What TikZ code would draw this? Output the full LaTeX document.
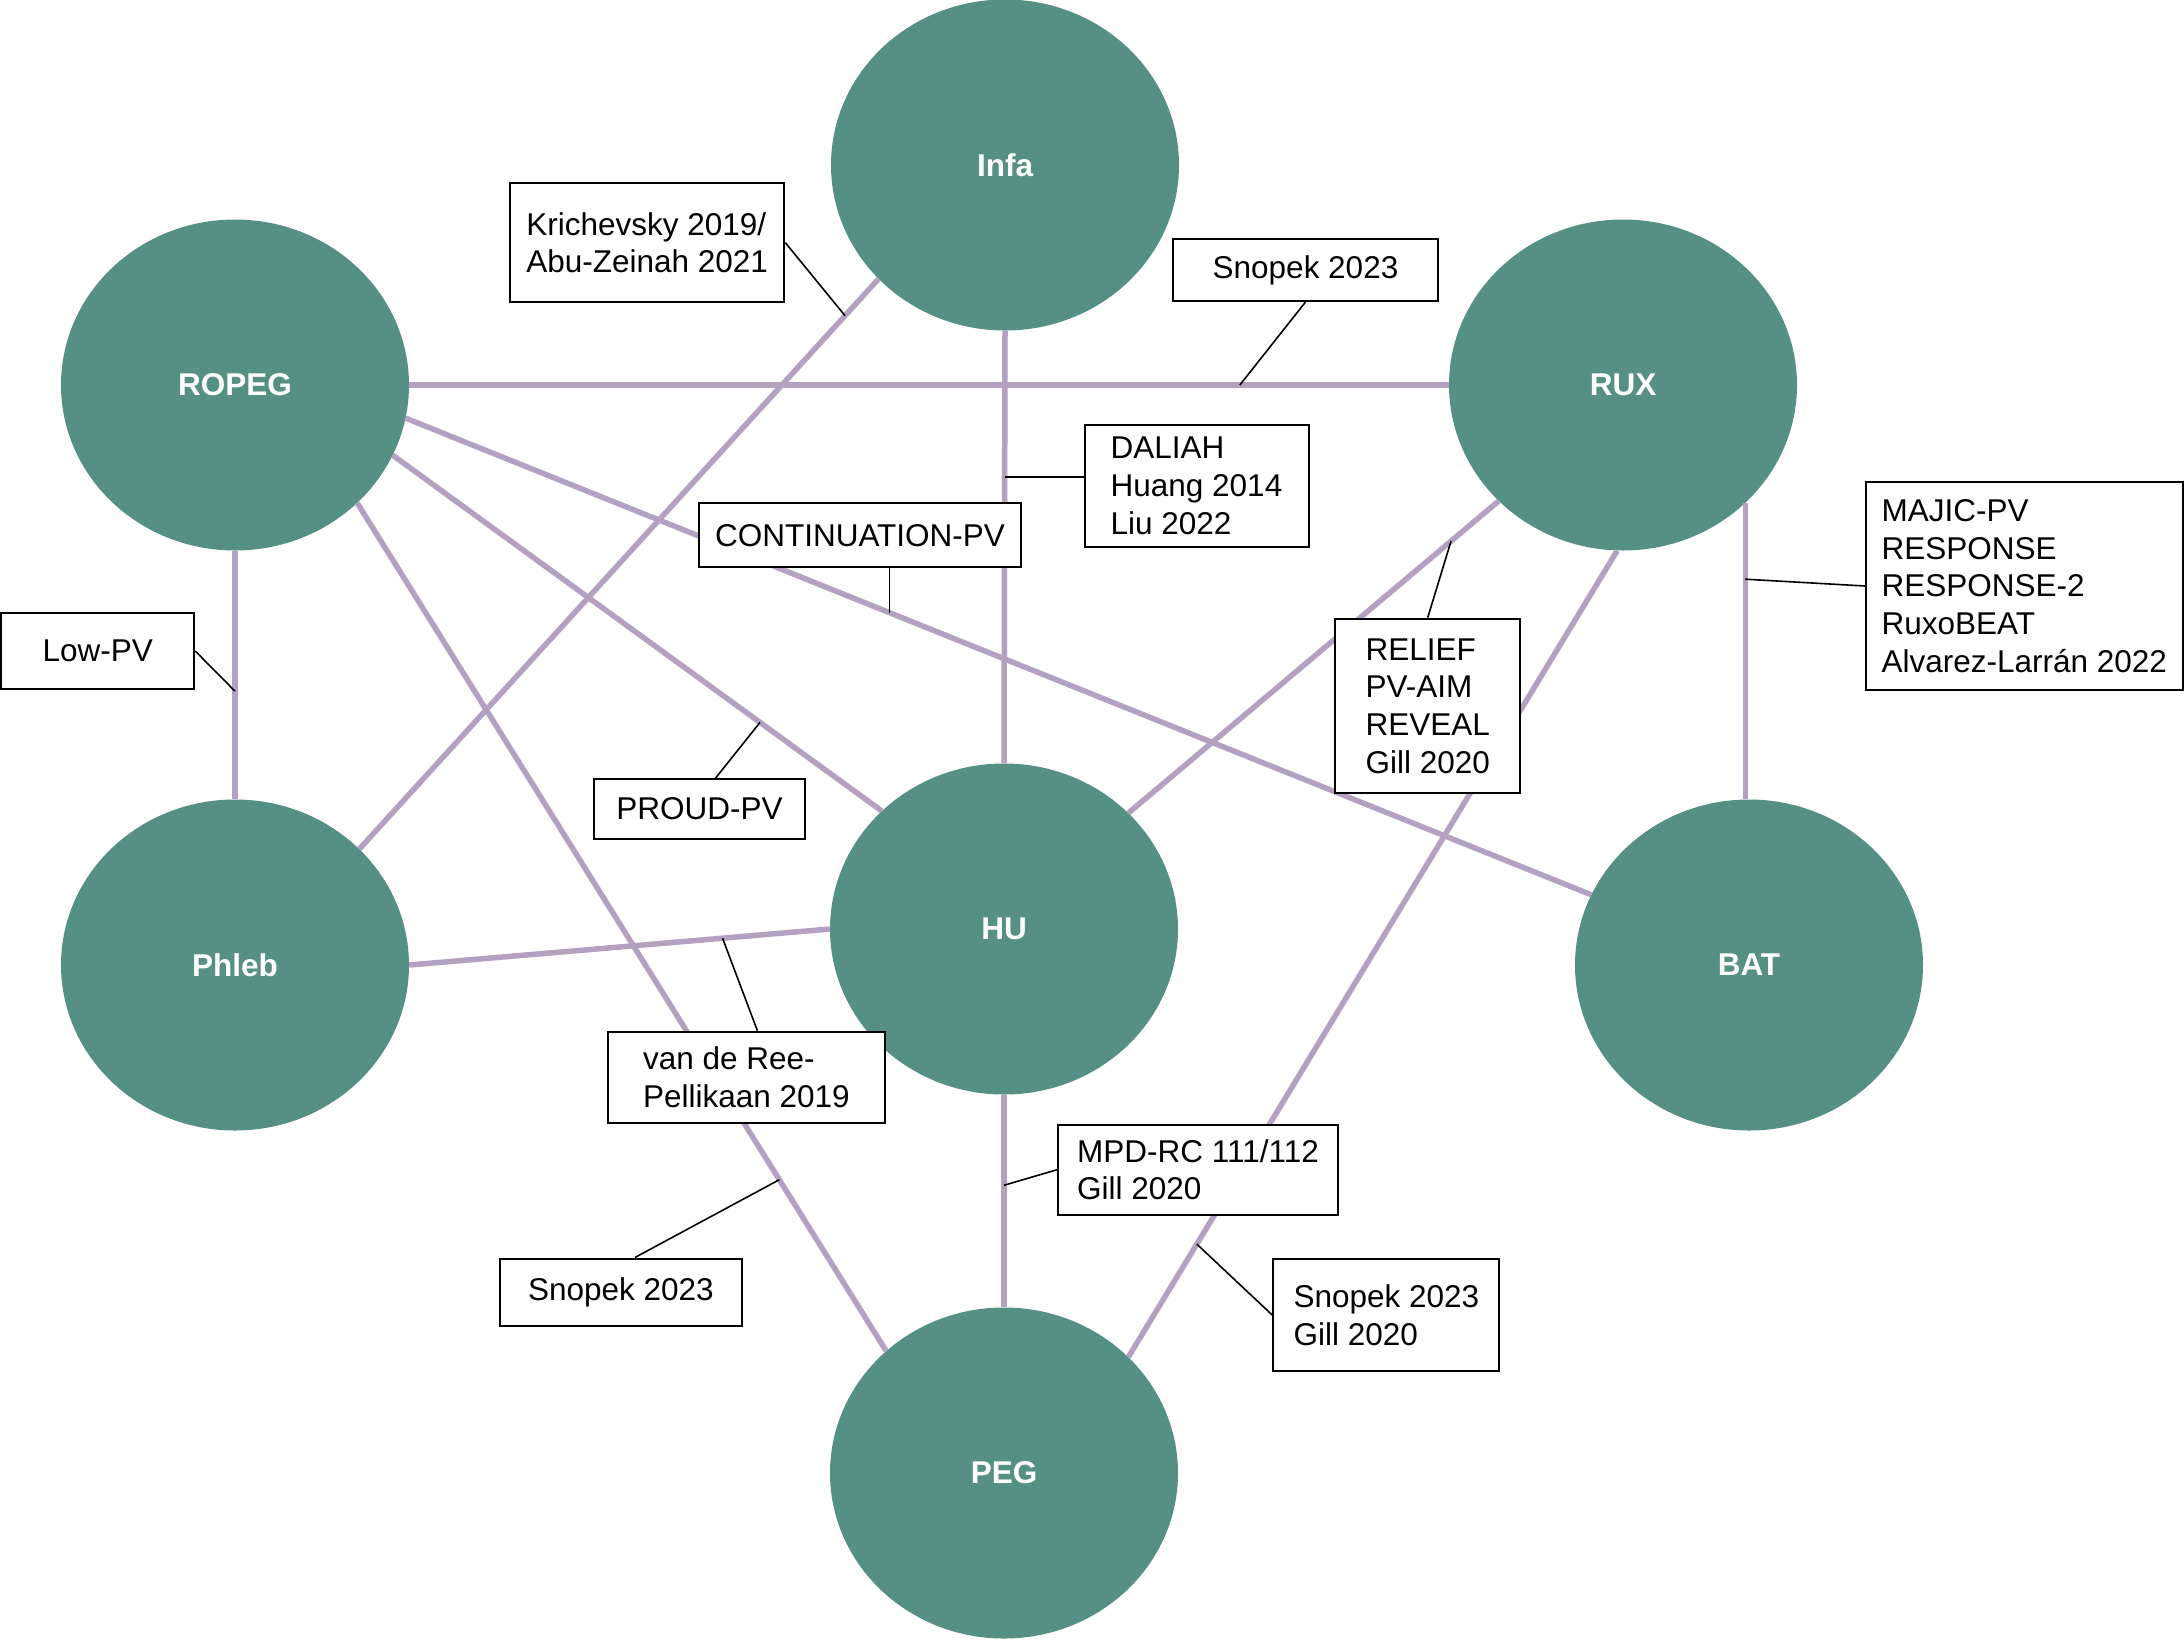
\documentclass[tikz,border=0pt]{standalone}
\usepackage{fontspec}
\setmainfont{Liberation Sans}
\usetikzlibrary{shapes.geometric,calc}
\definecolor{nodeteal}{RGB}{86,143,131}
\definecolor{linkpurple}{RGB}{180,161,194}
\tikzset{
  circ/.style={ellipse, fill=nodeteal, draw=none, minimum width=348pt, minimum height=331pt,
    inner sep=0pt, text=white, font=\fontsize{31.5}{37}\selectfont\bfseries},
  link/.style={draw=linkpurple, line width=5.5pt},
  lbl/.style={draw=black, line width=2pt, fill=white, inner sep=0pt, align=left,
    font=\fontsize{31.5}{37.7}\selectfont},
  lead/.style={draw=black, line width=1.6pt}
}
\begin{document}
\begin{tikzpicture}[x=1pt,y=-1pt]
\useasboundingbox (0,0) rectangle (2184,1639);
\fill[white] (0,0) rectangle (2184,1639);
% main nodes
\node[circ] (infa)  at (1005,165)  {Infa};
\node[circ] (ropeg) at (235,385)   {ROPEG};
\node[circ] (rux)   at (1623,385)  {RUX};
\node[circ] (phleb) at (235,965)   {Phleb};
\node[circ] (hu)    at (1004,929)  {HU};
\node[circ] (bat)   at (1749,965)  {BAT};
\node[circ] (peg)   at (1004,1473) {PEG};
% connectors
\draw[link] (ropeg.east) -- coordinate[pos=0.799] (e1) (rux.west);
\draw[link] (infa.south) -- coordinate[pos=0.338] (e2) (hu.north);
\draw[link] (infa.222.7) -- coordinate[pos=0.0645] (e3) (phleb.43.6);
\draw[link] (ropeg.349.8) -- coordinate[pos=0.408] (e4) (bat.156.6);
\draw[link] (ropeg.south) -- coordinate[pos=0.565] (e5) (phleb.north);
\draw[link] (ropeg.336.1) -- coordinate[pos=0.751] (e6) (hu.136.8);
\draw[link] (rux.316) -- coordinate[pos=0.257] (e7) (rux.316 |- bat.north);
\draw[link] (rux.223.6) -- coordinate[pos=0.1286] (e8) (hu.43.6);
\draw[link] (phleb.east) -- coordinate[pos=0.745] (e9) (hu.west);
\draw[link] (ropeg.316.4) -- coordinate[pos=0.798] (e10) (peg.134.9);
\draw[link] (hu.south) -- coordinate[pos=0.426] (e11) (peg.north);
\draw[link] (rux.268.5) -- coordinate[pos=0.86] (e12) (peg.43.7);
% label boxes
\node[lbl, minimum width=274.3pt, minimum height=119.3pt] (kri) at (647.2,242.7) {Krichevsky 2019/\\Abu-Zeinah 2021};
\node[lbl, minimum width=265pt, minimum height=62pt] (snA) at (1305.5,270) {Snopek 2023};
\node[lbl, minimum width=224pt, minimum height=121.5pt] (dal) at (1196.5,485.8) {DALIAH\\Huang 2014\\Liu 2022};
\node[lbl, minimum width=321.3pt, minimum height=64.5pt] (cont) at (860,535.2) {CONTINUATION-PV};
\node[lbl, minimum width=193pt, minimum height=75.3pt] (low) at (97.8,651.1) {Low-PV};
\node[lbl, minimum width=211.8pt, minimum height=59.2pt] (proud) at (699.4,808.9) {PROUD-PV};
\node[lbl, minimum width=316.6pt, minimum height=208.7pt] (majic) at (2024.3,586) {MAJIC-PV\\RESPONSE\\RESPONSE-2\\RuxoBEAT\\Alvarez-Larrán 2022};
\node[lbl, minimum width=185.3pt, minimum height=174.7pt] (relief) at (1427.7,706) {RELIEF\\PV-AIM\\REVEAL\\Gill 2020};
\node[lbl, minimum width=277.8pt, minimum height=91.5pt] (vdr) at (746.4,1077.5) {van de Ree-\\Pellikaan 2019};
\node[lbl, minimum width=241.3pt, minimum height=67.4pt] (snB) at (620.9,1292.2) {Snopek 2023};
\node[lbl, minimum width=280pt, minimum height=90pt] (mpd) at (1198,1169.7) {MPD-RC 111/112\\Gill 2020};
\node[lbl, minimum width=225.9pt, minimum height=112.4pt] (snG) at (1386.4,1315.2) {Snopek 2023\\Gill 2020};
% leader lines
\draw[lead] (snA.south) -- (e1);
\draw[lead] (e2) -- (e2 -| dal.west);
\draw[lead] (kri.east) -- (e3);
\draw[lead] (e4 |- cont.south) -- (e4);
\draw[lead] (low.east) -- (e5);
\draw[lead] ($(proud.north)+(16,0)$) -- (e6);
\draw[lead] (e7) -- (majic.west);
\draw[lead] (relief.north) -- (e8);
\draw[lead] ($(vdr.north)+(11,0)$) -- (e9);
\draw[lead] ($(snB.north)+(14,0)$) -- (e10);
\draw[lead] (e11) -- (mpd.west);
\draw[lead] (e12) -- (snG.west);
\end{tikzpicture}
\end{document}
